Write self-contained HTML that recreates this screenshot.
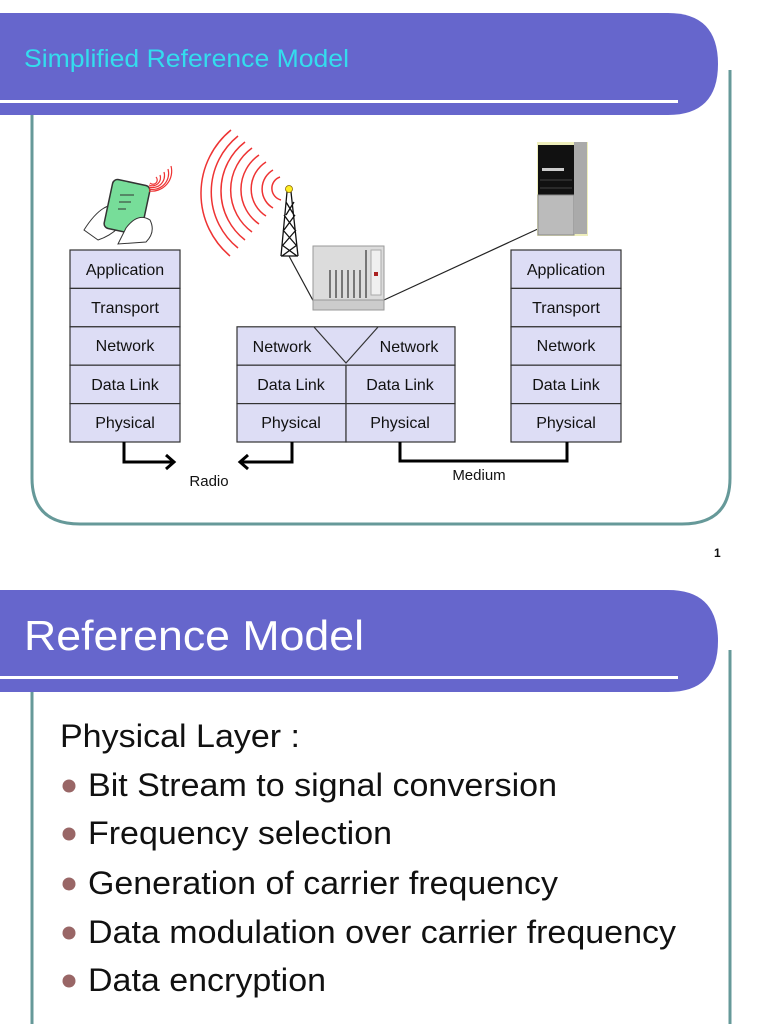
<!DOCTYPE html>
<html><head><meta charset="utf-8"><style>
body{margin:0;background:#fff;}
svg{display:block;}
text{font-family:"Liberation Sans",sans-serif;}
</style></head><body>
<svg width="768" height="1024" viewBox="0 0 768 1024" xmlns="http://www.w3.org/2000/svg">
<!-- Slide 1 frame -->
<path d="M32 110 V478 Q32 524 80 524 H682 Q730 524 730 478 V70" fill="none" stroke="#669999" stroke-width="3"/>
<path d="M0 13 H668 Q718 13 718 64 Q718 115 668 115 H0 Z" fill="#6666cc"/>
<rect x="0" y="100" width="678" height="3" fill="#fff"/>
<text x="24" y="67" font-size="25" fill="#33ddee" textLength="325" lengthAdjust="spacingAndGlyphs">Simplified Reference Model</text>

<!-- phone icon -->
<g>
<path d="M84 230 Q94 214 104 208 L112 204 L118 228 Q110 236 98 240 Z" fill="#fff" stroke="#333" stroke-width="1"/>
<rect x="108" y="182" width="38" height="50" rx="5" transform="rotate(12 127 207)" fill="#77dd99" stroke="#333" stroke-width="1.5"/>
<path d="M120 195 h14 M119 202 h12 M118 209 h8" stroke="#333" stroke-width="1"/>
<path d="M126 228 Q138 212 150 220 Q156 232 146 242 L118 244 Z" fill="#fff" stroke="#333" stroke-width="1"/>
<g fill="none" stroke="#ee3333" stroke-width="1.2">
<path d="M150 183 A4 4 0 0 0 156 177"/><path d="M149 185 A8 8 0 0 0 160 175"/><path d="M149 187 A12 12 0 0 0 164 172"/><path d="M149 189 A16 16 0 0 0 168 169"/><path d="M149 191 A20 20 0 0 0 171 166"/>
</g>
</g>

<!-- radio waves -->
<g fill="none" stroke="#ee3333" stroke-width="1.5">
<path d="M280 177 A12 12 0 0 0 281 200"/>
<path d="M273 170 A22 22 0 0 0 273 208"/>
<path d="M266 162 A32 32 0 0 0 266 216"/>
<path d="M259 155 A42 42 0 0 0 259 224"/>
<path d="M252 148 A52 52 0 0 0 252 232"/>
<path d="M245 142 A62 62 0 0 0 245 240"/>
<path d="M238 136 A72 72 0 0 0 238 248"/>
<path d="M231 130 A82 82 0 0 0 230 256"/>
</g>
<!-- tower -->
<g stroke="#111" stroke-width="1.3" fill="none">
<path d="M287 192 L281 256 M291 192 L298 256 M282 245 L297 256 M297 245 L282 256 M283 230 L296 245 M296 230 L283 245 M284 215 L295 230 M295 215 L284 230 M286 202 L294 215 M294 202 L286 215 M281 256 H298"/>
</g>
<circle cx="289" cy="189" r="3.5" fill="#ffee22" stroke="#886600" stroke-width="0.8"/>
<line x1="289" y1="256" x2="316" y2="306" stroke="#222" stroke-width="1.2"/>
<line x1="384" y1="300" x2="540" y2="228" stroke="#222" stroke-width="1.2"/>
<!-- rack server -->
<rect x="313" y="246" width="71" height="64" fill="#dcdcdc" stroke="#999"/>
<g stroke="#555" stroke-width="1.5">
<path d="M330 270 v28 M336 270 v28 M342 270 v28 M348 270 v28 M354 270 v28 M360 270 v28 M366 250 v48"/>
</g>
<rect x="371" y="250" width="10" height="45" fill="#f0f0f0" stroke="#aaa"/>
<rect x="374" y="272" width="4" height="4" fill="#aa2222"/>
<rect x="313" y="300" width="71" height="10" fill="#ccc" stroke="#999"/>
<!-- PC tower -->
<rect x="537" y="142" width="51" height="94" fill="#eeeebb"/>
<rect x="538" y="145" width="36" height="50" fill="#111"/>
<rect x="538" y="195" width="36" height="40" fill="#bbb" stroke="#888"/>
<rect x="574" y="142" width="13" height="92" fill="#aaa"/>
<rect x="542" y="168" width="22" height="3" fill="#ccc"/>
<path d="M540 180 h32 M540 188 h32" stroke="#444"/>

<!-- stacks -->
<g fill="#ddddf5" stroke="#333" stroke-width="1.2">
<rect x="70" y="250" width="110" height="38.4"/><rect x="70" y="288.4" width="110" height="38.4"/><rect x="70" y="326.8" width="110" height="38.4"/><rect x="70" y="365.2" width="110" height="38.4"/><rect x="70" y="403.6" width="110" height="38.4"/>
<rect x="511" y="250" width="110" height="38.4"/><rect x="511" y="288.4" width="110" height="38.4"/><rect x="511" y="326.8" width="110" height="38.4"/><rect x="511" y="365.2" width="110" height="38.4"/><rect x="511" y="403.6" width="110" height="38.4"/>
<rect x="237" y="326.8" width="218" height="38.4"/>
<rect x="237" y="365.2" width="109" height="38.4"/><rect x="346" y="365.2" width="109" height="38.4"/>
<rect x="237" y="403.6" width="109" height="38.4"/><rect x="346" y="403.6" width="109" height="38.4"/>
</g>
<path d="M314 327 L346 363 L378 327" fill="none" stroke="#333" stroke-width="1.2"/>
<g font-size="16" fill="#111" text-anchor="middle">
<text x="125" y="275">Application</text><text x="125" y="313">Transport</text><text x="125" y="351">Network</text><text x="125" y="390">Data Link</text><text x="125" y="428">Physical</text>
<text x="566" y="275">Application</text><text x="566" y="313">Transport</text><text x="566" y="351">Network</text><text x="566" y="390">Data Link</text><text x="566" y="428">Physical</text>
<text x="282" y="352">Network</text><text x="409" y="352">Network</text>
<text x="291" y="390">Data Link</text><text x="400" y="390">Data Link</text>
<text x="291" y="428">Physical</text><text x="400" y="428">Physical</text>
</g>
<!-- connectors -->
<g fill="none" stroke="#000" stroke-width="3">
<path d="M124 442 V462 H172"/>
<path d="M166 455 L174 462 L166 469"/>
<path d="M292 442 V462 H242"/>
<path d="M248 455 L240 462 L248 469"/>
<path d="M400 442 V461 H567 V442"/>
</g>
<text x="209" y="486" font-size="15" text-anchor="middle" fill="#111">Radio</text>
<text x="479" y="480" font-size="15" text-anchor="middle" fill="#111">Medium</text>
<text x="714" y="557" font-size="12" font-weight="bold" fill="#111">1</text>

<!-- Slide 2 -->
<path d="M32 680 V1024 M730 650 V1024" fill="none" stroke="#669999" stroke-width="3"/>
<path d="M0 590 H668 Q718 590 718 641 Q718 692 668 692 H0 Z" fill="#6666cc"/>
<rect x="0" y="676" width="678" height="3" fill="#fff"/>
<text x="24" y="650" font-size="42" fill="#fff" textLength="340" lengthAdjust="spacingAndGlyphs">Reference Model</text>
<g font-size="32" fill="#111">
<text x="60" y="747" textLength="240" lengthAdjust="spacingAndGlyphs">Physical Layer :</text>
<text x="88" y="796" textLength="469" lengthAdjust="spacingAndGlyphs">Bit Stream to signal conversion</text>
<text x="88" y="844" textLength="304" lengthAdjust="spacingAndGlyphs">Frequency selection</text>
<text x="88" y="894" textLength="470" lengthAdjust="spacingAndGlyphs">Generation of carrier frequency</text>
<text x="88" y="943" textLength="588" lengthAdjust="spacingAndGlyphs">Data modulation over carrier frequency</text>
<text x="88" y="991" textLength="238" lengthAdjust="spacingAndGlyphs">Data encryption</text>
</g>
<g fill="#996666">
<circle cx="69" cy="786" r="6.5"/><circle cx="69" cy="834" r="6.5"/><circle cx="69" cy="884" r="6.5"/><circle cx="69" cy="933" r="6.5"/><circle cx="69" cy="981" r="6.5"/>
</g>
</svg>
</body></html>
